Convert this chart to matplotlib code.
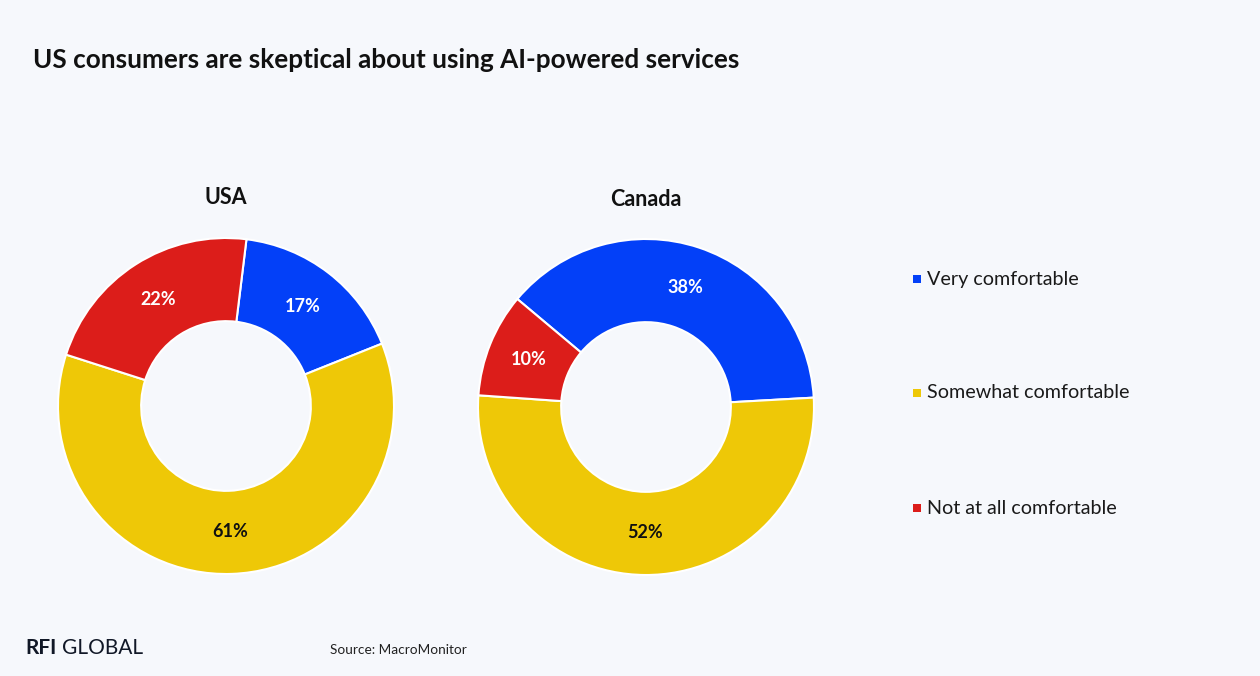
import matplotlib.pyplot as plt
from matplotlib.patches import Rectangle

categories = ["Very comfortable", "Somewhat comfortable", "Not at all comfortable"]
usa_values = [17, 61, 22]
canada_values = [38, 52, 10]
colors = ["#0340f8", "#eec807", "#dc1d1a"]
label_colors = ["white", "#111111", "white"]

bg = "#f6f8fc"
plt.rcParams['font.family'] = ['Lato', 'DejaVu Sans']

fig = plt.figure(figsize=(12.6, 6.76), dpi=100, facecolor=bg)


def donut(cx, cy, values, start, title, title_y):
    r = 168
    ax = fig.add_axes([(cx - r) / 1260, (676 - cy - r) / 676, 2 * r / 1260, 2 * r / 676])
    ax.set_facecolor(bg)
    wedges, texts, autotexts = ax.pie(values, colors=colors, startangle=start, counterclock=False,
                                      autopct=lambda p: f"{p:.0f}%", pctdistance=0.75,
                                      wedgeprops=dict(width=0.495, edgecolor="white", linewidth=1.5))
    for t, c in zip(autotexts, label_colors):
        t.set_color(c)
        t.set_fontsize(13)
        t.set_fontweight("bold")
    ax.set_xlim(-1, 1)
    ax.set_ylim(-1, 1)
    ax.set_aspect("equal")
    ax.axis("off")
    fig.text(cx / 1260, 1 - title_y / 676, title, ha="center", va="center",
             fontsize=15.5, fontweight="bold", color="#111111")


donut(226, 406, usa_values, 83, "USA", 197)
donut(646, 407, canada_values, 140, "Canada", 200)

# legend
for name, c, y in zip(categories, colors, [279, 393, 508]):
    fig.patches.append(Rectangle((913 / 1260, 1 - (y + 4) / 676), 8 / 1260, 8 / 676,
                                 transform=fig.transFigure, facecolor=c, edgecolor="none"))
    fig.text(927 / 1260, 1 - y / 676, name, ha="left", va="center", fontsize=14.2, color="#1a1a1a")

fig.text(33 / 1260, 1 - 60 / 676, "US consumers are skeptical about using AI-powered services",
         ha="left", va="center", fontsize=18.8, fontweight="bold", color="#111111")

fig.text(25 / 1260, 1 - 648 / 676, "RFI", ha="left", va="center", fontsize=15,
         fontweight="bold", color="#111827")
fig.text(62 / 1260, 1 - 648 / 676, "GLOBAL", ha="left", va="center", fontsize=15,
         color="#111827")
fig.text(330 / 1260, 1 - 650 / 676, "Source: MacroMonitor", ha="left", va="center",
         fontsize=9.8, color="#222222")

fig.savefig("out.png", dpi=100, facecolor=bg)
